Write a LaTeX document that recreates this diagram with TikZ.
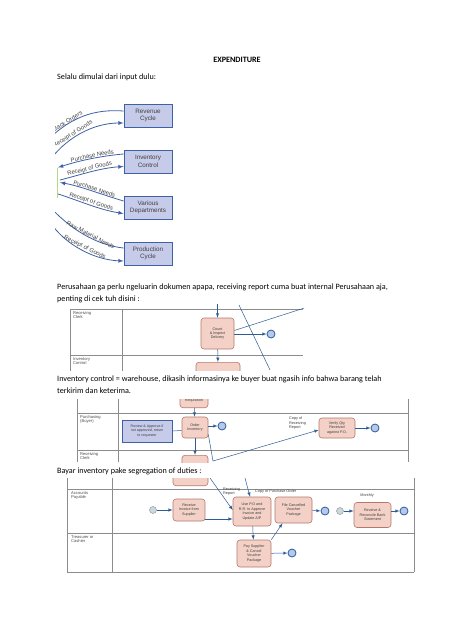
\documentclass[tikz,border=0pt]{standalone}
\usepackage{fontspec}
\setmainfont{Carlito}
\newfontfamily\diagfont{Liberation Sans}
\usetikzlibrary{positioning}
\usetikzlibrary{arrows}
\usetikzlibrary{calc}

\definecolor{cycblue}{HTML}{3C62A5}
\definecolor{cycfill}{HTML}{C6CBEA}
\definecolor{actfill}{HTML}{F3D1C7}
\definecolor{actline}{HTML}{B8776B}
\definecolor{endfill}{HTML}{B5C8F0}
\definecolor{flow}{HTML}{2F5C94}
\definecolor{lane}{HTML}{8C8C8C}
\definecolor{startfill}{HTML}{C9D9DD}
\definecolor{edgegreen}{HTML}{B5D98B}

\tikzset{
	para/.style={anchor=west, inner sep=0pt, font=\fontsize{8.15}{10}\selectfont},
	cyclebox/.style={draw=cycblue, fill=cycfill, line width=0.9pt, minimum width=48pt, minimum height=23pt, inner sep=0pt, align=center, text=black!75, font=\diagfont\fontsize{6.3}{7.3}\selectfont},
	curvelbl/.style={inner sep=0.2pt, text=black!75, font=\diagfont\fontsize{5.9}{6.5}\selectfont},
	cycflow/.style={draw=cycblue, line width=0.8pt},
	actbox/.style={draw=actline, fill=actfill, rounded corners=3pt, line width=0.6pt, inner sep=0pt, align=center, text=black!75, font=\diagfont\fontsize{3.7}{4.4}\selectfont},
	revbox/.style={draw=cycblue, fill=cycfill, line width=0.6pt, inner sep=0pt, align=center, text=black!75, font=\diagfont\fontsize{3.6}{4.3}\selectfont},
	endev/.style={circle, draw=flow, fill=endfill, line width=0.8pt, minimum size=8pt, inner sep=0pt},
	startev/.style={circle, draw=lane, fill=startfill, line width=0.4pt, minimum size=7pt, inner sep=0pt},
	flowline/.style={draw=flow, line width=0.5pt, -latex},
	flowplain/.style={draw=flow, line width=0.5pt},
	lanes/.style={draw=lane, line width=0.6pt},
	lanelbl/.style={anchor=north west, inner sep=0pt, align=left, text=black!70, font=\diagfont\fontsize{4.1}{4.8}\selectfont},
	notelbl/.style={inner sep=0pt, align=left, text=black!75, font=\diagfont\fontsize{3.8}{4.4}\selectfont}
}

\begin{document}
\begin{tikzpicture}[x=1pt,y=-1pt]
	\useasboundingbox (0,0) rectangle (474,632);
	\fill[white] (0,0) rectangle (474,632);

	% page text
	\node[font=\bfseries\fontsize{8.15}{10}\selectfont, inner sep=0pt] (title) at (237,60) {EXPENDITURE};
	\node[para] (p1) at (57,77) {Selalu dimulai dari input dulu:};
	\node[para] (p2) at (57,287) {Perusahaan ga perlu ngeluarin dokumen apapa, receiving report cuma buat internal Perusahaan aja,};
	\node[para] (p3) at (57,299) {penting di cek tuh disini :};
	\node[para] (p4) at (57,379) {Inventory control = warehouse, dikasih informasinya ke buyer buat ngasih info bahwa barang telah};
	\node[para] (p5) at (57,391) {terkirim dan keterima.};
	\node[para] (p6) at (57,471) {Bayar inventory pake segregation of duties :};

	% cycles
	\begin{scope}
		\clip (55,100) rectangle (232,270);
		\node[cyclebox] (rev) at (148,115.5) {Revenue\\Cycle};
		\node[cyclebox] (inv) at (148,161.5) {Inventory\\Control};
		\node[cyclebox] (dep) at (148,207.5) {Various\\Departments};
		\node[cyclebox] (prod) at (148,253.5) {Production\\Cycle};
		\coordinate (bo) at (40,148);
		\coordinate (rg1) at (45,167);
		\coordinate (pn1) at (58,167.5);
		\coordinate (rg2) at (60,180);
		\coordinate (pn2) at (60,182.5);
		\coordinate (rg3) at (58,194);
		\coordinate (rm) at (48,205);
		\coordinate (rg4) at (50,222);
		\draw[edgegreen, line width=0.8pt] (57.5,168) -- (57.5,198);
		\draw[cycflow, -latex] ([yshift=4.5pt]rev.west) .. controls (95,109) and (70,116) .. (bo)
			node[curvelbl, pos=0.66, sloped, above] {Back Orders};
		\draw[cycflow, -latex] (rg1) .. controls (65,136) and (95,123) .. ([yshift=-7.5pt]rev.west)
			node[curvelbl, pos=0.42, sloped, above] {Receipt of Goods};
		\draw[cycflow, -latex] ([yshift=7.5pt]inv.west) .. controls (100,156) and (78,161) .. (pn1)
			node[curvelbl, pos=0.45, sloped, above] {Purchase Needs};
		\draw[cycflow, -latex] (rg2) .. controls (80,175) and (100,168) .. ([yshift=-5pt]inv.west)
			node[curvelbl, pos=0.5, sloped, above] {Receipt of Goods};
		\draw[cycflow, -latex] ([yshift=6.5pt]dep.west) .. controls (100,194) and (80,186) .. (pn2)
			node[curvelbl, pos=0.45, sloped, above] {Purchase Needs};
		\draw[cycflow, -latex] (rg3) .. controls (80,201) and (100,210) .. ([yshift=-6pt]dep.west)
			node[curvelbl, pos=0.5, sloped, above] {Receipt of Goods};
		\draw[cycflow, -latex] ([yshift=5.5pt]prod.west) .. controls (95,245) and (70,228) .. (rm)
			node[curvelbl, pos=0.42, sloped, above] {Raw Material Needs};
		\draw[cycflow, -latex] (rg4) .. controls (65,245) and (95,260) .. ([yshift=-7.5pt]prod.west)
			node[curvelbl, pos=0.52, sloped, above] {Receipt of Goods};
	\end{scope}

	% receiving clerk
	\begin{scope}
		\clip (66,304) rectangle (304,370);
		\draw[lanes] (70,309) -- (303,309);
		\draw[lanes] (70,355) -- (303,355);
		\draw[lanes] (70,309) -- (70,372);
		\draw[lanes] (122,309) -- (122,372);
		\node[lanelbl] (rc) at (73,311) {Receiving\\Clerk};
		\node[lanelbl] (ic) at (73,357) {Inventory\\Control};
		\node[actbox, minimum width=33pt, minimum height=31pt] (count) at (217.5,333.5) {Count\\\& Inspect\\Delivery};
		\node[actbox, minimum width=44pt, minimum height=14pt, anchor=north] (stock) at (218,362) {};
		\node[endev] (e1) at (271,334) {};
		\coordinate (cin) at (217.5,303);
		\coordinate (rep) at (306,307.5);
		\coordinate (s1) at (239,305);
		\coordinate (s2) at (270,370);
		\draw[flowline] (cin) -- (count);
		\draw[flowline] (count) -- (stock);
		\draw[flowplain] ([yshift=3pt]count.east) -- (rep);
		\draw[flowline] ([yshift=-0.5pt]count.east) -- (e1);
		\draw[flowplain] (s1) -- (s2);
	\end{scope}

	% purchasing
	\begin{scope}
		\clip (75,399) rectangle (410,462);
		\draw[lanes] (77,413) -- (408,413);
		\draw[lanes] (77,450) -- (408,450);
		\foreach \x in {77,118,408}
			\draw[lanes] (\x,399) -- (\x,462);
		\node[lanelbl] (pb) at (80,415) {Purchasing\\(Buyer)};
		\node[lanelbl] (rk) at (80,452) {Receiving\\Clerk};
		\node[actbox, minimum width=28pt, minimum height=14pt, anchor=south] (req) at (194,408) {Requisition};
		\node[revbox, minimum width=50pt, minimum height=22pt] (appr) at (147,431) {Review \& Approve-if\\not approved, return\\to requester};
		\node[actbox, minimum width=26pt, minimum height=21pt] (ordr) at (195,427.5) {Order\\Inventory};
		\node[actbox, minimum width=26pt, minimum height=14pt, anchor=north] (nxt) at (195,455) {};
		\node[actbox, minimum width=36pt, minimum height=20pt] (vrfy) at (337,428) {Verify Qty\\Received\\against P.O.};
		\node[endev] (e2) at (222,426) {};
		\node[endev] (e3) at (375,428) {};
		\node[notelbl, anchor=north west] (cpr) at (289,417) {Copy of\\Receiving\\Report};
		\coordinate (bnd) at (213,461);
		\draw[flowline] (req) -- (ordr);
		\draw[flowplain] (appr.east) -- ([yshift=-3pt]ordr.west);
		\draw[flowline] ([yshift=1.5pt]ordr.east) -- (e2);
		\draw[flowline] (ordr) -- (nxt);
		\draw[flowline] ([yshift=-7pt]ordr.east) -- (bnd) -- ([yshift=-2pt]vrfy.west);
		\draw[flowline] (vrfy) -- (e3);
	\end{scope}

	% accounts payable
	\begin{scope}
		\clip (65,478) rectangle (416,574);
		\draw[lanes] (67,489) -- (414,489);
		\draw[lanes] (67,533) -- (414,533);
		\draw[lanes] (67,572) -- (414,572);
		\foreach \x in {67,112,414}
			\draw[lanes] (\x,478) -- (\x,572);
		\node[lanelbl] (ap) at (71,491) {Accounts\\Payable};
		\node[lanelbl] (tc) at (71,535) {Treasurer or\\Cashier};
		\node[actbox, minimum width=35pt, minimum height=14pt, anchor=south] (prev) at (190.5,486) {};
		\node[startev] (st1) at (153,510) {};
		\node[actbox, minimum width=32pt, minimum height=22pt] (rinv) at (189,510) {Receive\\Invoice from\\Supplier};
		\node[actbox, minimum width=38pt, minimum height=29pt] (upo) at (252,511.5) {Use P.O and\\R.R. to Approve\\Invoice and\\Update A/P};
		\node[actbox, minimum width=37pt, minimum height=26pt] (file) at (293.5,510) {File Cancelled\\Voucher\\Package};
		\node[endev] (e4) at (325,511) {};
		\node[startev] (st2) at (340,511) {};
		\node[actbox, minimum width=37pt, minimum height=25pt] (bank) at (372.5,515) {Receive \&\\Reconcile Bank\\Statement};
		\node[endev] (e5) at (404,511) {};
		\node[actbox, minimum width=34pt, minimum height=27pt] (pay) at (254,553.5) {Pay Supplier\\\& Cancel\\Voucher\\Package};
		\node[endev] (e6) at (292,553) {};
		\node[notelbl, anchor=north west] (rrp) at (223,487.5) {Receiving\\Report};
		\node[notelbl, anchor=west] (cpo) at (255,492) {Copy of Purchase Order};
		\node[notelbl] (mon) at (367,496) {Monthly};
		\coordinate (rin) at (210,478);
		\coordinate (cin2) at (245,478);
		\draw[flowline] (st1) -- (rinv);
		\draw[flowline] ([yshift=-9pt]rinv.east) -- ([yshift=-7.5pt]upo.west);
		\draw[flowline] (rin) -- ([yshift=1.5pt]upo.west);
		\draw[flowline] (cin2) -- ([xshift=-2pt]upo.north);
		\draw[flowline] (upo) -- (pay);
		\draw[flowline] (pay.north east) -- ([xshift=-11pt]file.south);
		\draw[flowline] (file) -- (e4);
		\draw[flowline] (st2) -- (bank.west |- st2);
		\draw[flowline] (bank.east |- e5) -- (e5);
		\draw[flowline] (pay) -- (e6);
	\end{scope}
\end{tikzpicture}
\end{document}
